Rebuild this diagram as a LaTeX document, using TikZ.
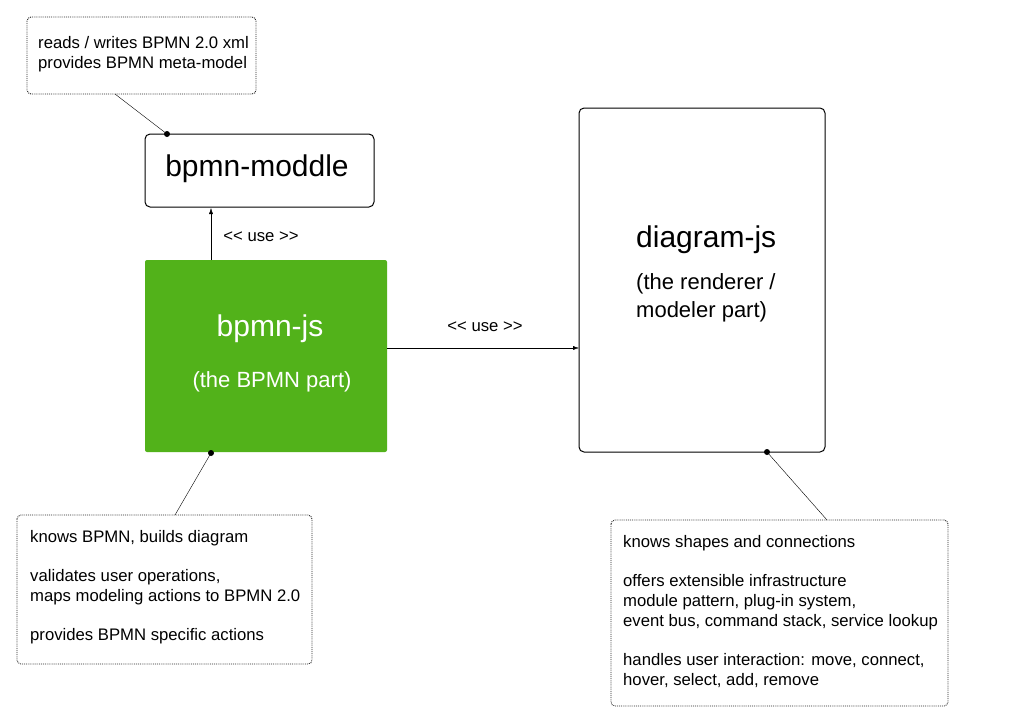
\documentclass[tikz,border=0pt]{standalone}
\usepackage{fontspec}
\setmainfont{Liberation Sans}
\usetikzlibrary{arrows.meta}
\begin{document}
\begin{tikzpicture}[x=1pt,y=-1pt,
  note/.style={draw=black!85,densely dotted,rounded corners=4pt,line width=0.9pt},
  box/.style={draw=black,rounded corners=5pt,line width=1pt},
  txt/.style={anchor=west,inner sep=0,font=\fontsize{16.7}{20}\selectfont,align=left},
  big/.style={inner sep=0,font=\fontsize{30}{34}\selectfont},
  mid/.style={inner sep=0,font=\fontsize{22}{28}\selectfont},
  dotn/.style={circle,fill=black,inner sep=0,minimum size=6pt},
  arr/.style={-{Latex[length=6pt,width=4pt]}}]
\useasboundingbox (0,0) rectangle (1027,724);
% notes
\draw[note] (27,17) rectangle (256,94);
\node[txt] (n1) at (38,54) {reads / writes BPMN 2.0 xml\\provides BPMN meta-model};
\draw[note] (17,515) rectangle (312,664);
\node[txt,anchor=north west] (n2) at (30,530) {knows BPMN, builds diagram\\[19pt]validates user operations,\\maps modeling actions to BPMN 2.0\\[19pt]provides BPMN specific actions};
\draw[note] (611,520) rectangle (948,706);
\node[txt,anchor=north west] (n3) at (623,535) {knows shapes and connections\\[19pt]offers extensible infrastructure\\module pattern, plug-in system,\\event bus, command stack, service lookup\\[19pt]handles user interaction: move, connect,\\hover, select, add, remove};
% boxes
\draw[box] (145,134) rectangle (374,207);
\node[big] (moddle) at (257,169) {bpmn-moddle};
\fill[fill={rgb,255:red,82;green,178;blue,26},rounded corners=2pt] (145,260) rectangle (387,452);
\node[big,text=white] (bjs) at (270,329) {bpmn-js};
\node[mid,text=white] (bjs2) at (272,382) {(the BPMN part)};
\draw[box] (579,108) rectangle (825,452);
\node[big,anchor=west] (djs) at (636,240) {diagram-js};
\node[mid,anchor=north west,align=left] (djs2) at (636,273) {(the renderer /\\modeler part)};
% connectors
\coordinate (a1) at (211,260); \coordinate (a2) at (211,208);
\draw[arr] (a1) -- (a2);
\node[txt,anchor=center] (u1) at (261,237) {<{}< use >{}>};
\coordinate (b1) at (387,348); \coordinate (b2) at (579,348);
\draw[arr] (b1) -- (b2);
\node[txt,anchor=center] (u2) at (485,327) {<{}< use >{}>};
\node[dotn] (d1) at (167,134) {};
\coordinate (e1) at (115,94);
\draw (e1) -- (d1.center);
\node[dotn] (d2) at (211,453) {};
\coordinate (e2) at (175,515);
\draw (e2) -- (d2.center);
\node[dotn] (d3) at (767,452) {};
\coordinate (e3) at (827,520);
\draw (e3) -- (d3.center);
\end{tikzpicture}
\end{document}
